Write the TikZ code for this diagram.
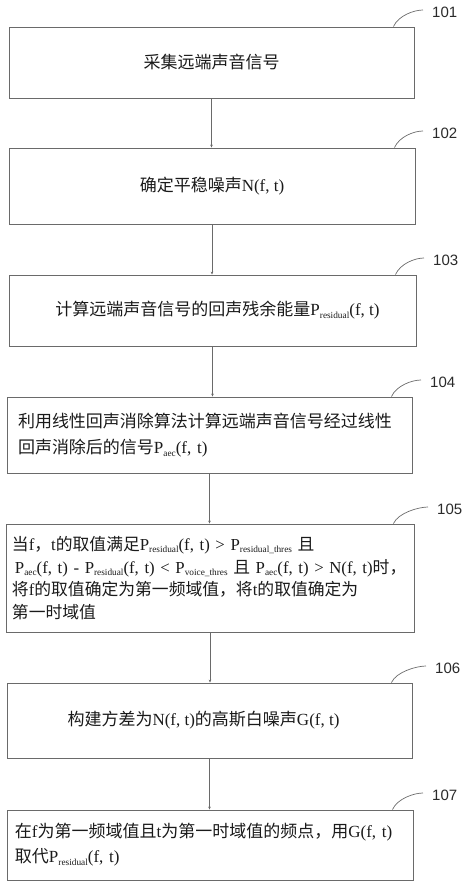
\documentclass[tikz,border=0pt]{standalone}
\usepackage{fontspec}
\setmainfont{Liberation Serif}
\newfontfamily\cjk{Noto Sans CJK SC}
\newfontfamily\labfont{Liberation Sans}
\usetikzlibrary{arrows.meta,calc}
\newcommand\zh[1]{{\cjk #1}}
\newcommand\sbx[1]{\raisebox{-2.6pt}{\fontsize{9.3}{9}\selectfont #1}}
\definecolor{boxc}{HTML}{6A6A6A}
\definecolor{txt}{HTML}{1A1A1A}
\definecolor{labc}{HTML}{2A2A2A}
\begin{document}
\begin{tikzpicture}[x=1pt,y=-1pt,
  box/.style={draw=boxc, line width=0.9pt, inner sep=0pt, text=txt,
    font=\fontsize{17}{26}\selectfont},
  lab/.style={font=\labfont\fontsize{15}{15}\selectfont, inner sep=0pt, text=labc, anchor=west},
  arr/.style={draw=boxc, line width=0.8pt, -{Stealth[length=3pt,width=2.6pt]}},
  lead/.style={draw=boxc, line width=0.7pt}]
\useasboundingbox (0,0) rectangle (474,887);

\node[box, minimum width=405pt, minimum height=71pt] (b1) at (211.5,62.5)
  {\zh{采集远端声音信号}};
\node[box, minimum width=406pt, minimum height=76pt] (b2) at (212,186)
  {\zh{确定平稳噪声}N(f, t)};
\node[box, minimum width=407pt, minimum height=71pt] (b3) at (212.5,310.5)
  {\hspace*{10pt}\zh{计算远端声音信号的回声残余能量}P\sbx{residual}(f, t)};
\node[box, minimum width=405pt, minimum height=76pt, text width=383pt, inner xsep=11pt, align=left] (b4) at (209.5,435)
  {\zh{利用线性回声消除算法计算远端声音信号经过线性}\\
   \zh{回声消除后的信号}P\sbx{aec}(f, t)};
\node[box, minimum width=408pt, minimum height=108pt, text width=396pt, inner xsep=6pt, align=left,
  font=\fontsize{16.8}{22.7}\selectfont] (b5) at (210,578)
  {\zh{当}f\zh{，}t\zh{的取值满足}P\sbx{residual}(f, t) > P\sbx{residual\_thres} \zh{且}\\
   \hspace*{3pt}P\sbx{aec}(f, t) - P\sbx{residual}(f, t) < P\sbx{voice\_thres} \zh{且} P\sbx{aec}(f, t) > N(f, t)\zh{时，}\\
   \zh{将}f\zh{的取值确定为第一频域值，将}t\zh{的取值确定为}\\
   \zh{第一时域值}};
\node[box, minimum width=405pt, minimum height=75pt] (b6) at (209.5,720.5)
  {\zh{构建方差为}N(f, t)\zh{的高斯白噪声}G(f, t)\hspace*{12pt}};
\node[box, minimum width=406pt, minimum height=70pt, text width=390pt, inner xsep=8pt, align=left,
  font=\fontsize{17}{25}\selectfont] (b7) at (210,845)
  {\zh{在}f\zh{为第一频域值且}t\zh{为第一时域值的频点，用}G(f, t)\\
   \zh{取代}P\sbx{residual}(f, t)};

\foreach \a/\b in {b1/b2,b2/b3,b3/b4,b4/b5,b5/b6,b6/b7}
  \draw[arr] (\a.south) -- (\a.south |- \b.north);

\node[lab] (l1) at (432,12.5) {101};
\node[lab] (l2) at (432,133.5) {102};
\node[lab] (l3) at (433,260.5) {103};
\node[lab] (l4) at (430,382.5) {104};
\node[lab] (l5) at (437,509.5) {105};
\node[lab] (l6) at (435,668.5) {106};
\node[lab] (l7) at (432,795.5) {107};

\foreach \i in {1,...,7}
  \draw[lead] ($(b\i.north east)+(-21,0)$) .. controls +(5,-11) and +(-9,0) .. ($(l\i.west)+(-9,-2.5)$);
\end{tikzpicture}
\end{document}
